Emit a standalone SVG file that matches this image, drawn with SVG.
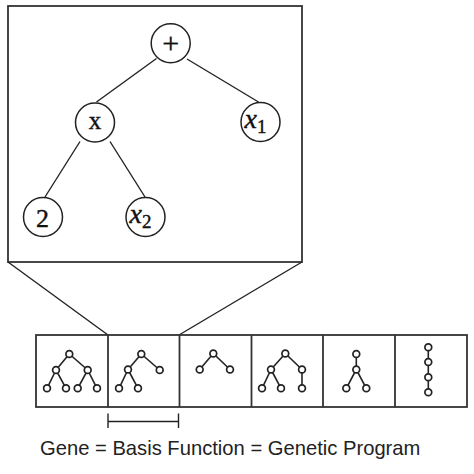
<svg xmlns="http://www.w3.org/2000/svg" width="474" height="474" viewBox="0 0 474 474">
<style>
.box{fill:none;stroke:#333;stroke-width:1.8}
.edge{stroke:#222;stroke-width:1.4;fill:none}
.node{fill:#fff;stroke:#222;stroke-width:1.5}
.lbl{font-family:"Liberation Serif","Times New Roman",serif;fill:#111;stroke:#111;stroke-width:0.4}
.mini circle{fill:#fff;stroke:#222;stroke-width:1.7}
.mini line{stroke:#222;stroke-width:1.6}
.cap{font-family:"Liberation Sans",Arial,sans-serif;font-size:20.2px;fill:#222}
</style>
<rect width="474" height="474" fill="#fff"/>
<g id="zoom-frame">
<rect class="box" x="8" y="6" width="294" height="256"/>
<line class="edge" x1="8" y1="262" x2="108" y2="335"/>
<line class="edge" x1="302" y1="262" x2="179" y2="335"/>
</g>
<g id="connectors">
<line class="edge" x1="156.5" y1="58.5" x2="96.5" y2="102"/>
<line class="edge" x1="187" y1="59" x2="258.5" y2="102"/>
<line class="edge" x1="80" y1="141.5" x2="45" y2="197"/>
<line class="edge" x1="110" y1="141.5" x2="145" y2="197"/>
</g>
<g id="node-plus">
<circle class="node" cx="170.7" cy="43.3" r="19.5"/>
<text class="lbl" x="170.7" y="53" font-size="30" text-anchor="middle">+</text>
</g>
<g id="node-times">
<circle class="node" cx="95" cy="122.5" r="19.5"/>
<text class="lbl" x="95" y="129" font-size="25" text-anchor="middle">x</text>
</g>
<g id="node-x1">
<circle class="node" cx="260.5" cy="122" r="19.5"/>
<text class="lbl" x="244.5" y="127.5" font-size="28"><tspan font-style="italic">x</tspan><tspan font-size="19" dy="5">1</tspan></text>
</g>
<g id="node-2">
<circle class="node" cx="43" cy="217" r="19.5"/>
<text class="lbl" x="42.5" y="226.5" font-size="26" text-anchor="middle">2</text>
</g>
<g id="node-x2">
<circle class="node" cx="145.5" cy="217" r="19.5"/>
<text class="lbl" x="129.5" y="222.5" font-size="28"><tspan font-style="italic">x</tspan><tspan font-size="19" dy="5">2</tspan></text>
</g>
<g id="strip">
<rect class="box" x="36" y="335" width="431" height="72"/>
<line class="box" x1="108" y1="335" x2="108" y2="407"/>
<line class="box" x1="179.5" y1="335" x2="179.5" y2="407"/>
<line class="box" x1="251.5" y1="335" x2="251.5" y2="407"/>
<line class="box" x1="323" y1="335" x2="323" y2="407"/>
<line class="box" x1="395" y1="335" x2="395" y2="407"/>
</g>
<g id="gene1" class="mini">
<line x1="69.3" y1="354" x2="56" y2="370"/><line x1="69.3" y1="354" x2="87.7" y2="370"/>
<line x1="56" y1="370" x2="47" y2="388.3"/><line x1="56" y1="370" x2="66" y2="388.3"/>
<line x1="87.7" y1="370" x2="77.7" y2="388.3"/><line x1="87.7" y1="370" x2="97" y2="388.3"/>
<circle cx="69.3" cy="354" r="3.4"/><circle cx="56" cy="370" r="3.4"/><circle cx="87.7" cy="370" r="3.4"/>
<circle cx="47" cy="388.3" r="3.4"/><circle cx="66" cy="388.3" r="3.4"/><circle cx="77.7" cy="388.3" r="3.4"/><circle cx="97" cy="388.3" r="3.4"/>
</g>
<g id="gene2" class="mini">
<line x1="141.3" y1="354" x2="128" y2="369.5"/><line x1="141.3" y1="354" x2="159.7" y2="370"/>
<line x1="128" y1="369.5" x2="119" y2="388.3"/><line x1="128" y1="369.5" x2="138" y2="388.3"/>
<circle cx="141.3" cy="354" r="3.4"/><circle cx="128" cy="369.5" r="3.4"/><circle cx="159.7" cy="370" r="3.4"/>
<circle cx="119" cy="388.3" r="3.4"/><circle cx="138" cy="388.3" r="3.4"/>
</g>
<g id="gene3" class="mini">
<line x1="213.3" y1="353.5" x2="199.7" y2="369.5"/><line x1="213.3" y1="353.5" x2="230" y2="369.5"/>
<circle cx="213.3" cy="353.5" r="3.4"/><circle cx="199.7" cy="369.5" r="3.4"/><circle cx="230" cy="369.5" r="3.4"/>
</g>
<g id="gene4" class="mini">
<line x1="285.3" y1="353.5" x2="271" y2="369.5"/><line x1="285.3" y1="353.5" x2="302" y2="369.5"/>
<line x1="271" y1="369.5" x2="262" y2="388.3"/><line x1="271" y1="369.5" x2="281" y2="388.3"/>
<line x1="302" y1="369.5" x2="302" y2="388.3"/>
<circle cx="285.3" cy="353.5" r="3.4"/><circle cx="271" cy="369.5" r="3.4"/><circle cx="302" cy="369.5" r="3.4"/>
<circle cx="262" cy="388.3" r="3.4"/><circle cx="281" cy="388.3" r="3.4"/><circle cx="302" cy="388.3" r="3.4"/>
</g>
<g id="gene5" class="mini">
<line x1="356.3" y1="354" x2="356.3" y2="369.5"/>
<line x1="356.3" y1="369.5" x2="346.3" y2="388.3"/><line x1="356.3" y1="369.5" x2="366.3" y2="388.3"/>
<circle cx="356.3" cy="354" r="3.4"/><circle cx="356.3" cy="369.5" r="3.4"/>
<circle cx="346.3" cy="388.3" r="3.4"/><circle cx="366.3" cy="388.3" r="3.4"/>
</g>
<g id="gene6" class="mini">
<line x1="428.3" y1="347.3" x2="428.3" y2="392.3"/>
<circle cx="428.3" cy="347.3" r="3.4"/><circle cx="428.3" cy="362" r="3.4"/><circle cx="428.3" cy="377.3" r="3.4"/><circle cx="428.3" cy="392.3" r="3.4"/>
</g>
<g id="bracket">
<line class="edge" x1="108" y1="421.5" x2="178.5" y2="421.5" stroke-width="1.6"/>
<line class="edge" x1="108" y1="413.5" x2="108" y2="428" stroke-width="1.6"/>
<line class="edge" x1="178.5" y1="413.5" x2="178.5" y2="428" stroke-width="1.6"/>
</g>
<g id="caption">
<text class="cap" x="40" y="455">Gene = Basis Function = Genetic Program</text>
</g>
</svg>
